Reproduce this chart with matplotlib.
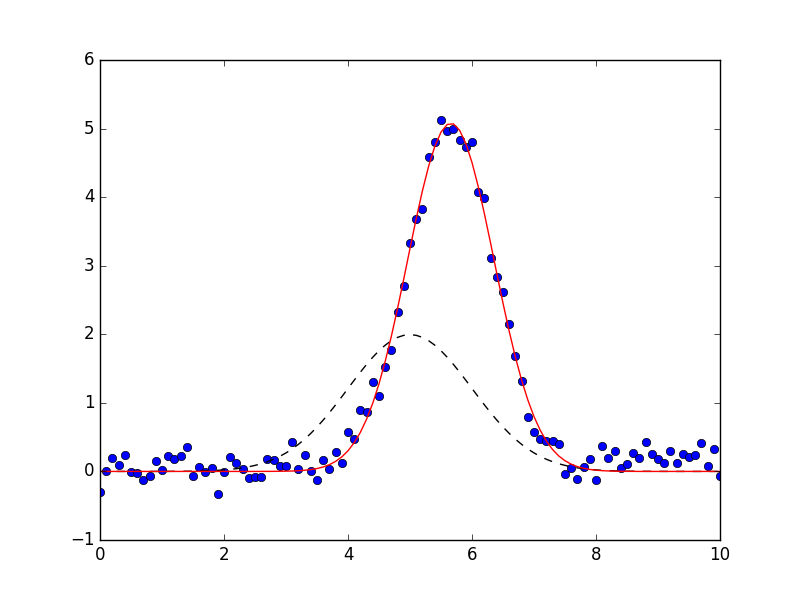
import numpy as np
import matplotlib
matplotlib.use("Agg")
import matplotlib.pyplot as plt

plt.style.use("classic")

# x grid: 0.0 .. 10.0, step 0.1
x = np.round(np.arange(101) * 0.1, 1)

# measured data (blue dots)
y_data = [
    -0.30, 0.00, 0.19, 0.09, 0.24, -0.01, -0.02, -0.13, -0.07, 0.15,
    0.02, 0.22, 0.18, 0.22, 0.35, -0.07, 0.06, -0.01, 0.05, -0.33,
    -0.01, 0.21, 0.12, 0.03, -0.10, -0.08, -0.08, 0.18, 0.16, 0.08,
    0.08, 0.43, 0.03, 0.24, 0.00, -0.13, 0.16, 0.03, 0.28, 0.13,
    0.58, 0.48, 0.89, 0.86, 1.30, 1.10, 1.53, 1.77, 2.33, 2.71,
    3.33, 3.68, 3.82, 4.58, 4.80, 5.12, 4.96, 4.99, 4.84, 4.73,
    4.81, 4.07, 3.99, 3.11, 2.84, 2.61, 2.15, 1.68, 1.32, 0.79,
    0.58, 0.48, 0.44, 0.44, 0.40, -0.04, 0.05, -0.11, 0.06, 0.18,
    -0.13, 0.37, 0.19, 0.30, 0.05, 0.11, 0.27, 0.19, 0.43, 0.25,
    0.18, 0.13, 0.30, 0.12, 0.26, 0.21, 0.24, 0.41, 0.08, 0.33,
    -0.07,
]

# best fit (red line)
y_fit = [
    0, 0, 0, 0, 0, 0, 0, 0, 0, 0,
    0, 0, 0, 0, 0, 0, 0, 0, 0, 0,
    0, 0, 0, 0, 0, 0, 0.0003, 0.0006, 0.0011, 0.002,
    0.004, 0.006, 0.010, 0.017, 0.027, 0.042, 0.065, 0.099, 0.146, 0.212,
    0.301, 0.419, 0.571, 0.762, 0.997, 1.278, 1.606, 1.975, 2.381, 2.811,
    3.252, 3.685, 4.091, 4.449, 4.740, 4.948, 5.060, 5.069, 4.975, 4.783,
    4.505, 4.157, 3.758, 3.328, 2.887, 2.454, 2.044, 1.667, 1.332, 1.043,
    0.800, 0.601, 0.442, 0.319, 0.225, 0.156, 0.106, 0.070, 0.046, 0.029,
    0.018, 0.011, 0.007, 0.004, 0.002, 0.001, 0.0007, 0, 0, 0,
    0, 0, 0, 0, 0, 0, 0, 0, 0, 0,
    0,
]

# initial guess (black dashed)
y_init = [
    0, 0, 0, 0, 0, 0.0001, 0.0001, 0.0002, 0.0003, 0.0004,
    0.0007, 0.001, 0.0015, 0.0021, 0.0031, 0.0044, 0.0062, 0.0086, 0.0119, 0.0163,
    0.022, 0.030, 0.040, 0.052, 0.068, 0.088, 0.112, 0.142, 0.177, 0.220,
    0.270, 0.328, 0.395, 0.470, 0.555, 0.648, 0.749, 0.857, 0.971, 1.089,
    1.210, 1.330, 1.448, 1.561, 1.666, 1.760, 1.841, 1.907, 1.955, 1.985,
    1.995, 1.985, 1.955, 1.907, 1.841, 1.760, 1.666, 1.561, 1.448, 1.330,
    1.210, 1.089, 0.971, 0.857, 0.749, 0.648, 0.555, 0.470, 0.395, 0.328,
    0.270, 0.220, 0.177, 0.142, 0.112, 0.088, 0.068, 0.052, 0.040, 0.030,
    0.022, 0.0163, 0.0119, 0.0086, 0.0062, 0.0044, 0.0031, 0.0021, 0.0015, 0.001,
    0.0007, 0.0004, 0.0003, 0.0002, 0.0001, 0.0001, 0, 0, 0, 0,
    0,
]

fig = plt.figure(figsize=(8, 6), dpi=100, facecolor="white")
plt.plot(x, y_data, "bo")
plt.plot(x, y_init, "k--")
plt.plot(x, y_fit, "r-")
plt.xlim(0, 10)
plt.ylim(-1, 6)

plt.savefig("out.png", dpi=100, facecolor="white")
